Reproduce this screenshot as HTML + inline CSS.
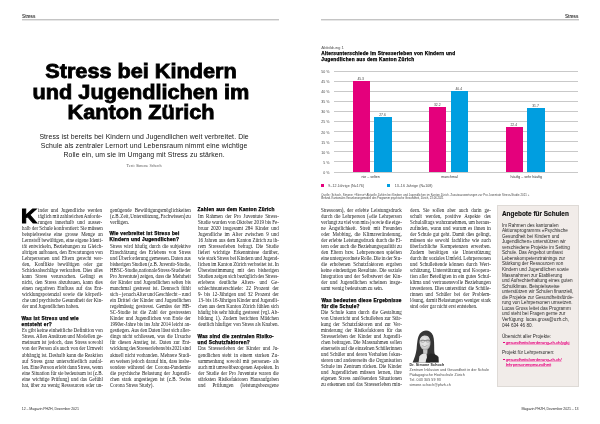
<!DOCTYPE html><html><head><meta charset="utf-8"><style>
*{margin:0;padding:0;box-sizing:border-box}
html,body{width:600px;height:424px;overflow:hidden;background:#fff}
body{position:relative}
.a{position:absolute;white-space:nowrap}
.b{font:5.35px/6.03px "Liberation Serif",serif;color:#151515;transform:scaleX(0.935);transform-origin:0 0}
.h{font:bold 4.8px/6.03px "Liberation Sans",sans-serif;color:#000;-webkit-text-stroke:0.25px #000}
.r{position:absolute}
</style></head><body><div style="position:absolute;left:0;top:0;width:600px;height:424px;will-change:transform">
<div class="a" style="left:22.20px;top:13.19px;font:normal normal 5.4px/6.480px 'Liberation Sans', sans-serif;color:#2a2a2a;transform:scaleX(0.87);transform-origin:0 0;-webkit-text-stroke:0.1px #2a2a2a;">Stress</div>
<div class="r" style="left:21.5px;top:19px;width:257px;height:1px;background:#c4c4c4;box-shadow:0 1px 0 #e6e6e6"></div>
<div class="a" style="right:21.30px;text-align:right;top:13.19px;font:normal normal 5.4px/6.480px 'Liberation Sans', sans-serif;color:#2a2a2a;transform:scaleX(0.87);transform-origin:100% 0;-webkit-text-stroke:0.1px #2a2a2a;">Stress</div>
<div class="r" style="left:321px;top:19px;width:257.5px;height:1px;background:#c4c4c4;box-shadow:0 1px 0 #e6e6e6"></div>
<div class="a" style="left:-58.9px;width:400px;text-align:center;top:60.40px;font:bold 19.9px/23px 'Liberation Sans',sans-serif;color:#000;transform:scaleX(1.09);-webkit-text-stroke:0.8px #000">Stress bei Kindern</div>
<div class="a" style="left:-58.9px;width:400px;text-align:center;top:81.00px;font:bold 19.9px/23px 'Liberation Sans',sans-serif;color:#000;transform:scaleX(1.09);-webkit-text-stroke:0.8px #000">und Jugendlichen im</div>
<div class="a" style="left:-58.9px;width:400px;text-align:center;top:101.10px;font:bold 19.9px/23px 'Liberation Sans',sans-serif;color:#000;transform:scaleX(1.09);-webkit-text-stroke:0.8px #000">Kanton Zürich</div>
<div class="a" style="left:-55.90px;width:400px;text-align:center;top:133.07px;font:normal normal 6.9px/8.280px 'Liberation Sans', sans-serif;color:#151515;letter-spacing:0.1px;">Stress ist bereits bei Kindern und Jugendlichen weit verbreitet. Die</div>
<div class="a" style="left:-55.90px;width:400px;text-align:center;top:142.07px;font:normal normal 6.9px/8.280px 'Liberation Sans', sans-serif;color:#151515;letter-spacing:0.1px;">Schule als zentraler Lernort und Lebensraum nimmt eine wichtige</div>
<div class="a" style="left:-55.90px;width:400px;text-align:center;top:150.97px;font:normal normal 6.9px/8.280px 'Liberation Sans', sans-serif;color:#151515;letter-spacing:0.1px;">Rolle ein, um sie im Umgang mit Stress zu stärken.</div>
<div class="a" style="left:-56.00px;width:400px;text-align:center;top:164.36px;font:normal normal 4.1px/4.920px 'Liberation Serif', serif;color:#555;">Text: Simone Schoch</div>
<div class="a" style="left:20.9px;top:205.1px;font:bold 21px/21px 'Liberation Sans',sans-serif;color:#000;-webkit-text-stroke:1px #000;transform:scaleX(1.06);transform-origin:0 0">K</div>
<div class="a b" style="left:38.20px;top:206.79px;word-spacing:1.430px">inder und Jugendliche werden</div>
<div class="a b" style="left:38.20px;top:212.81px;word-spacing:-0.346px">täglich mit zahlreichen Anforde-</div>
<div class="a b" style="left:38.20px;top:218.85px;word-spacing:2.159px">rungen innerhalb und ausser-</div>
<div class="a b" style="left:21.50px;top:224.88px;word-spacing:-0.142px">halb der Schule konfrontiert: Sie müssen</div>
<div class="a b" style="left:21.50px;top:230.91px;word-spacing:1.940px">beispielsweise eine grosse Menge an</div>
<div class="a b" style="left:21.50px;top:236.94px;word-spacing:-0.146px">Lernstoff bewältigen, eine eigene Identi-</div>
<div class="a b" style="left:21.50px;top:242.97px;word-spacing:0.495px">tät entwickeln, Beziehungen zu Gleich-</div>
<div class="a b" style="left:21.50px;top:249.00px;word-spacing:0.124px">altrigen aufbauen, den Erwartungen von</div>
<div class="a b" style="left:21.50px;top:255.03px;word-spacing:1.303px">Lehrpersonen und Eltern gerecht wer-</div>
<div class="a b" style="left:21.50px;top:261.06px;word-spacing:2.944px">den, Konflikte bewältigen oder gar</div>
<div class="a b" style="left:21.50px;top:267.09px;word-spacing:0.316px">Schicksalsschläge verkraften. Dies alles</div>
<div class="a b" style="left:21.50px;top:273.12px;word-spacing:2.569px">kann Stress verursachen. Gelingt es</div>
<div class="a b" style="left:21.50px;top:279.15px;word-spacing:0.808px">nicht, den Stress abzubauen, kann dies</div>
<div class="a b" style="left:21.50px;top:285.18px;word-spacing:1.346px">einen negativen Einfluss auf das Ent-</div>
<div class="a b" style="left:21.50px;top:291.21px;word-spacing:1.050px">wicklungspotenzial sowie die körperli-</div>
<div class="a b" style="left:21.50px;top:297.24px;word-spacing:-0.020px">che und psychische Gesundheit der Kin-</div>
<div class="a b" style="left:21.50px;top:303.27px">der und Jugendlichen haben.</div>
<div class="a h" style="left:21.50px;top:315.83px;letter-spacing:0.25px">Was ist Stress und wie</div>
<div class="a h" style="left:21.50px;top:321.86px;letter-spacing:0.25px">entsteht er?</div>
<div class="a b" style="left:21.50px;top:327.39px;word-spacing:-0.082px">Es gibt keine einheitliche Definition von</div>
<div class="a b" style="left:21.50px;top:333.42px;word-spacing:-0.173px">Stress. Allen Ansätzen und Modellen ge-</div>
<div class="a b" style="left:21.50px;top:339.45px;word-spacing:0.480px">meinsam ist jedoch, dass Stress sowohl</div>
<div class="a b" style="left:21.50px;top:345.48px;word-spacing:-0.059px">von der Person als auch von der Umwelt</div>
<div class="a b" style="left:21.50px;top:351.50px;word-spacing:0.008px">abhängig ist. Deshalb kann die Reaktion</div>
<div class="a b" style="left:21.50px;top:357.54px;word-spacing:1.050px">auf Stress ganz unterschiedlich ausfal-</div>
<div class="a b" style="left:21.50px;top:363.57px;word-spacing:-0.339px">len. Eine Person erlebt dann Stress, wenn</div>
<div class="a b" style="left:21.50px;top:369.60px;word-spacing:-0.042px">eine Situation für sie bedeutsam ist (z.B.</div>
<div class="a b" style="left:21.50px;top:375.62px;word-spacing:0.690px">eine wichtige Prüfung) und das Gefühl</div>
<div class="a b" style="left:21.50px;top:381.66px;word-spacing:0.280px">hat, über zu wenig Ressourcen oder un-</div>
<div class="a b" style="left:109.50px;top:206.79px;word-spacing:1.964px">genügende Bewältigungsmöglichkeiten</div>
<div class="a b" style="left:109.50px;top:212.81px;word-spacing:-0.657px">(z.B. Zeit, Unterstützung, Fachwissen) zu</div>
<div class="a b" style="left:109.50px;top:218.85px">verfügen.</div>
<div class="a h" style="left:109.50px;top:231.41px;letter-spacing:0.25px">Wie verbreitet ist Stress bei</div>
<div class="a h" style="left:109.50px;top:237.44px;letter-spacing:0.25px">Kindern und Jugendlichen?</div>
<div class="a b" style="left:109.50px;top:242.97px;word-spacing:0.571px">Stress wird häufig durch die subjektive</div>
<div class="a b" style="left:109.50px;top:249.00px;word-spacing:1.421px">Einschätzung des Erlebens von Stress</div>
<div class="a b" style="left:109.50px;top:255.03px;word-spacing:-0.173px">und Überforderung gemessen. Daten aus</div>
<div class="a b" style="left:109.50px;top:261.06px;word-spacing:-0.153px">bisherigen Studien (z.B. Juventir-Studie,</div>
<div class="a b" style="left:109.50px;top:267.09px;word-spacing:-0.981px">HBSC-Studie, nationale Stress-Studie der</div>
<div class="a b" style="left:109.50px;top:273.12px;word-spacing:-0.110px">Pro Juventute) zeigen, dass die Mehrheit</div>
<div class="a b" style="left:109.50px;top:279.15px;word-spacing:0.630px">der Kinder und Jugendlichen selten bis</div>
<div class="a b" style="left:109.50px;top:285.18px;word-spacing:1.159px">manchmal gestresst ist. Dennoch fühlt</div>
<div class="a b" style="left:109.50px;top:291.21px;word-spacing:-0.551px">sich – je nach Alter und Geschlecht – rund</div>
<div class="a b" style="left:109.50px;top:297.24px;word-spacing:0.277px">ein Drittel der Kinder und Jugendlichen</div>
<div class="a b" style="left:109.50px;top:303.27px;word-spacing:0.714px">regelmässig gestresst. Gemäss der HB-</div>
<div class="a b" style="left:109.50px;top:309.30px;word-spacing:1.224px">SC-Studie ist die Zahl der gestressten</div>
<div class="a b" style="left:109.50px;top:315.33px;word-spacing:0.571px">Kinder und Jugendlichen von Ende der</div>
<div class="a b" style="left:109.50px;top:321.36px;word-spacing:-0.024px">1990er-Jahre bis ins Jahr 2014 leicht an-</div>
<div class="a b" style="left:109.50px;top:327.39px;word-spacing:-0.199px">gestiegen. Aus den Daten lässt sich aller-</div>
<div class="a b" style="left:109.50px;top:333.42px;word-spacing:0.424px">dings nicht schliessen, was die Ursache</div>
<div class="a b" style="left:109.50px;top:339.45px;word-spacing:1.168px">für diesen Anstieg ist. Daten zur Ent-</div>
<div class="a b" style="left:109.50px;top:345.48px;word-spacing:-0.735px">wicklung des Stresserlebens bis 2021 sind</div>
<div class="a b" style="left:109.50px;top:351.50px;word-spacing:0.198px">aktuell nicht vorhanden. Mehrere Studi-</div>
<div class="a b" style="left:109.50px;top:357.54px;word-spacing:0.033px">en weisen jedoch darauf hin, dass insbe-</div>
<div class="a b" style="left:109.50px;top:363.57px;word-spacing:0.660px">sondere während der Corona-Pandemie</div>
<div class="a b" style="left:109.50px;top:369.60px;word-spacing:0.753px">die psychische Belastung der Jugendli-</div>
<div class="a b" style="left:109.50px;top:375.62px;word-spacing:1.224px">chen stark angestiegen ist (z.B. Swiss</div>
<div class="a b" style="left:109.50px;top:381.66px">Corona Stress Study).</div>
<div class="a h" style="left:197.60px;top:207.29px;letter-spacing:0.25px">Zahlen aus dem Kanton Zürich</div>
<div class="a b" style="left:197.60px;top:212.81px;word-spacing:1.343px">Im Rahmen der Pro Juventute Stress-</div>
<div class="a b" style="left:197.60px;top:218.85px;word-spacing:-0.144px">Studie wurden von Oktober 2019 bis Fe-</div>
<div class="a b" style="left:197.60px;top:224.88px;word-spacing:1.105px">bruar 2020 insgesamt 284 Kinder und</div>
<div class="a b" style="left:197.60px;top:230.91px;word-spacing:1.462px">Jugendliche im Alter zwischen 9 und</div>
<div class="a b" style="left:197.60px;top:236.94px;word-spacing:0.071px">16 Jahren aus dem Kanton Zürich zu ih-</div>
<div class="a b" style="left:197.60px;top:242.97px;word-spacing:1.608px">rem Stresserleben befragt. Die Studie</div>
<div class="a b" style="left:197.60px;top:249.00px;word-spacing:2.066px">liefert wichtige Erkenntnisse darüber,</div>
<div class="a b" style="left:197.60px;top:255.03px;word-spacing:-0.240px">wie stark Stress bei Kindern und Jugend-</div>
<div class="a b" style="left:197.60px;top:261.06px;word-spacing:-0.264px">lichen im Kanton Zürich verbreitet ist. In</div>
<div class="a b" style="left:197.60px;top:267.09px;word-spacing:2.238px">Übereinstimmung mit den bisherigen</div>
<div class="a b" style="left:197.60px;top:273.12px;word-spacing:-0.320px">Studien zeigen sich bezüglich des Stress-</div>
<div class="a b" style="left:197.60px;top:279.15px;word-spacing:3.276px">erlebens deutliche Alters- und Ge-</div>
<div class="a b" style="left:197.60px;top:285.18px;word-spacing:1.946px">schlechtsunterschiede: 22 Prozent der</div>
<div class="a b" style="left:197.60px;top:291.21px;word-spacing:0.997px">9- bis 12-Jährigen und 32 Prozent der</div>
<div class="a b" style="left:197.60px;top:297.24px;word-spacing:-0.320px">13- bis 16-Jährigen Kinder und Jugendli-</div>
<div class="a b" style="left:197.60px;top:303.27px;word-spacing:-0.042px">chen aus dem Kanton Zürich fühlen sich</div>
<div class="a b" style="left:197.60px;top:309.30px;word-spacing:-0.069px">häufig bis sehr häufig gestresst (vgl. Ab-</div>
<div class="a b" style="left:197.60px;top:315.33px;word-spacing:1.014px">bildung 1). Zudem berichten Mädchen</div>
<div class="a b" style="left:197.60px;top:321.36px;word-spacing:0.008px">deutlich häufiger von Stress als Knaben.</div>
<div class="a h" style="left:197.60px;top:333.92px;letter-spacing:0.25px">Was sind die zentralen Risiko-</div>
<div class="a h" style="left:197.60px;top:339.95px;letter-spacing:0.25px">und Schutzfaktoren?</div>
<div class="a b" style="left:197.60px;top:345.48px;word-spacing:1.343px">Das Stresserleben der Kinder und Ju-</div>
<div class="a b" style="left:197.60px;top:351.50px;word-spacing:1.168px">gendlichen steht in einem starken Zu-</div>
<div class="a b" style="left:197.60px;top:357.54px;word-spacing:0.823px">sammenhang sowohl mit personen- als</div>
<div class="a b" style="left:197.60px;top:363.57px;word-spacing:-0.173px">auch mit umweltbezogenen Aspekten. In</div>
<div class="a b" style="left:197.60px;top:369.60px;word-spacing:0.601px">der Studie der Pro Juventute waren die</div>
<div class="a b" style="left:197.60px;top:375.62px;word-spacing:1.209px">stärksten Risikofaktoren Hausaufgaben</div>
<div class="a b" style="left:197.60px;top:381.66px;word-spacing:6.255px">und Prüfungen (leistungsbezogene</div>
<div class="a b" style="left:321.40px;top:206.89px;word-spacing:0.905px">Stressoren), der erlebte Leistungsdruck</div>
<div class="a b" style="left:321.40px;top:212.91px;word-spacing:0.682px">durch die Lehrperson («die Lehrperson</div>
<div class="a b" style="left:321.40px;top:218.92px;word-spacing:-0.438px">verlangt zu viel von mir») sowie die eige-</div>
<div class="a b" style="left:321.40px;top:224.94px;word-spacing:1.753px">ne Ängstlichkeit. Streit mit Freunden</div>
<div class="a b" style="left:321.40px;top:230.95px;word-spacing:1.347px">oder Mobbing, die Klimaveränderung,</div>
<div class="a b" style="left:321.40px;top:236.97px;word-spacing:0.040px">der erlebte Leistungsdruck durch die El-</div>
<div class="a b" style="left:321.40px;top:242.98px;word-spacing:-0.138px">tern oder auch die Beziehungsqualität zu</div>
<div class="a b" style="left:321.40px;top:249.00px;word-spacing:1.100px">den Eltern bzw. Lehrpersonen spielten</div>
<div class="a b" style="left:321.40px;top:255.01px;word-spacing:-0.496px">eine untergeordnete Rolle. Die in der Stu-</div>
<div class="a b" style="left:321.40px;top:261.03px;word-spacing:1.488px">die erhobenen Schutzfaktoren ergaben</div>
<div class="a b" style="left:321.40px;top:267.04px;word-spacing:0.198px">keine eindeutigen Resultate. Die soziale</div>
<div class="a b" style="left:321.40px;top:273.06px;word-spacing:0.455px">Integration und der Selbstwert der Kin-</div>
<div class="a b" style="left:321.40px;top:279.07px;word-spacing:1.569px">der und Jugendlichen scheinen insge-</div>
<div class="a b" style="left:321.40px;top:285.09px">samt wenig bedeutsam zu sein.</div>
<div class="a h" style="left:321.40px;top:297.62px;letter-spacing:0.25px">Was bedeuten diese Ergebnisse</div>
<div class="a h" style="left:321.40px;top:303.63px;letter-spacing:0.25px">für die Schule?</div>
<div class="a b" style="left:321.40px;top:309.15px;word-spacing:1.046px">Die Schule kann durch die Gestaltung</div>
<div class="a b" style="left:321.40px;top:315.16px;word-spacing:0.177px">von Unterricht und Schulleben zur Stär-</div>
<div class="a b" style="left:321.40px;top:321.18px;word-spacing:1.208px">kung der Schutzfaktoren und zur Ver-</div>
<div class="a b" style="left:321.40px;top:327.19px;word-spacing:1.495px">minderung der Risikofaktoren für das</div>
<div class="a b" style="left:321.40px;top:333.21px;word-spacing:0.753px">Stresserleben der Kinder und Jugendli-</div>
<div class="a b" style="left:321.40px;top:339.22px;word-spacing:0.272px">chen beitragen. Die Massnahmen sollen</div>
<div class="a b" style="left:321.40px;top:345.24px;word-spacing:-0.282px">einerseits auf die einzelnen Schülerinnen</div>
<div class="a b" style="left:321.40px;top:351.25px;word-spacing:0.296px">und Schüler und deren Verhalten fokus-</div>
<div class="a b" style="left:321.40px;top:357.27px;word-spacing:0.182px">sieren und andererseits die Organisation</div>
<div class="a b" style="left:321.40px;top:363.28px;word-spacing:0.424px">Schule ins Zentrum rücken. Die Kinder</div>
<div class="a b" style="left:321.40px;top:369.30px;word-spacing:1.456px">und Jugendlichen müssen lernen, ihre</div>
<div class="a b" style="left:321.40px;top:375.31px;word-spacing:0.853px">eigenen Stress auslösenden Situationen</div>
<div class="a b" style="left:321.40px;top:381.33px;word-spacing:0.277px">zu erkennen und das Stresserleben min-</div>
<div class="a b" style="left:409.60px;top:206.89px;word-spacing:1.814px">dern. Sie sollen aber auch darin ge-</div>
<div class="a b" style="left:409.60px;top:212.91px;word-spacing:2.495px">schult werden, positive Aspekte des</div>
<div class="a b" style="left:409.60px;top:218.92px;word-spacing:-0.085px">Schulalltags wahrzunehmen, um heraus-</div>
<div class="a b" style="left:409.60px;top:224.94px;word-spacing:0.575px">zufinden, wann und warum es ihnen in</div>
<div class="a b" style="left:409.60px;top:230.95px;word-spacing:0.254px">der Schule gut geht. Damit dies gelingt,</div>
<div class="a b" style="left:409.60px;top:236.97px;word-spacing:0.990px">müssen sie sowohl fachliche wie auch</div>
<div class="a b" style="left:409.60px;top:242.98px;word-spacing:1.888px">überfachliche Kompetenzen erwerben.</div>
<div class="a b" style="left:409.60px;top:249.00px;word-spacing:3.327px">Zudem benötigen sie Unterstützung</div>
<div class="a b" style="left:409.60px;top:255.01px;word-spacing:-0.247px">durch ihr soziales Umfeld. Lehrpersonen</div>
<div class="a b" style="left:409.60px;top:261.03px;word-spacing:1.034px">und Schulleitende können durch Wert-</div>
<div class="a b" style="left:409.60px;top:267.04px;word-spacing:0.410px">schätzung, Unterstützung und Koopera-</div>
<div class="a b" style="left:409.60px;top:273.06px;word-spacing:0.205px">tion aller Beteiligten in ein gutes Schul-</div>
<div class="a b" style="left:409.60px;top:279.07px;word-spacing:0.462px">klima und vertrauensvolle Beziehungen</div>
<div class="a b" style="left:409.60px;top:285.09px;word-spacing:0.272px">investieren. Dies unterstützt die Schüle-</div>
<div class="a b" style="left:409.60px;top:291.10px;word-spacing:1.699px">rinnen und Schüler bei der Problem-</div>
<div class="a b" style="left:409.60px;top:297.12px;word-spacing:-0.177px">lösung, damit Belastungen weniger stark</div>
<div class="a b" style="left:409.60px;top:303.13px">sind oder gar nicht erst entstehen.</div>
<div class="a" style="left:21.80px;top:407.39px;font:normal normal 3.6px/4.320px 'Liberation Sans', sans-serif;color:#333;letter-spacing:-0.09px;">12 – Magazin PHZH, Dezember 2021</div>
<div class="a" style="right:21.50px;text-align:right;top:407.39px;font:normal normal 3.6px/4.320px 'Liberation Sans', sans-serif;color:#333;letter-spacing:-0.09px;">Magazin PHZH, Dezember 2021 – 13</div>
<div class="a" style="left:321.30px;top:44.93px;font:normal normal 4.3px/5.160px 'Liberation Sans', sans-serif;color:#555;">Abbildung 1</div>
<div class="a" style="left:321.30px;top:51.06px;font:normal bold 4.8px/5.760px 'Liberation Sans', sans-serif;color:#000;letter-spacing:0.22px;-webkit-text-stroke:0.25px #000;">Altersunterschiede im Stresserleben von Kindern und</div>
<div class="a" style="left:321.30px;top:57.16px;font:normal bold 4.8px/5.760px 'Liberation Sans', sans-serif;color:#000;letter-spacing:0.22px;-webkit-text-stroke:0.25px #000;">Jugendlichen aus dem Kanton Zürich</div>
<div class="r" style="left:334px;top:171.55px;width:244.3px;height:1px;background:#c9c9c9"></div>
<div class="a" style="right:270.50px;text-align:right;top:170.74px;font:normal normal 3.6px/4.320px 'Liberation Sans', sans-serif;color:#444;">0 %</div>
<div class="r" style="left:334px;top:161.49px;width:244.3px;height:1px;background:#c9c9c9"></div>
<div class="a" style="right:270.50px;text-align:right;top:160.68px;font:normal normal 3.6px/4.320px 'Liberation Sans', sans-serif;color:#444;">5 %</div>
<div class="r" style="left:334px;top:151.43px;width:244.3px;height:1px;background:#c9c9c9"></div>
<div class="a" style="right:270.50px;text-align:right;top:150.62px;font:normal normal 3.6px/4.320px 'Liberation Sans', sans-serif;color:#444;">10 %</div>
<div class="r" style="left:334px;top:141.37px;width:244.3px;height:1px;background:#c9c9c9"></div>
<div class="a" style="right:270.50px;text-align:right;top:140.56px;font:normal normal 3.6px/4.320px 'Liberation Sans', sans-serif;color:#444;">15 %</div>
<div class="r" style="left:334px;top:131.31px;width:244.3px;height:1px;background:#c9c9c9"></div>
<div class="a" style="right:270.50px;text-align:right;top:130.50px;font:normal normal 3.6px/4.320px 'Liberation Sans', sans-serif;color:#444;">20 %</div>
<div class="r" style="left:334px;top:121.25px;width:244.3px;height:1px;background:#c9c9c9"></div>
<div class="a" style="right:270.50px;text-align:right;top:120.44px;font:normal normal 3.6px/4.320px 'Liberation Sans', sans-serif;color:#444;">25 %</div>
<div class="r" style="left:334px;top:111.19px;width:244.3px;height:1px;background:#c9c9c9"></div>
<div class="a" style="right:270.50px;text-align:right;top:110.38px;font:normal normal 3.6px/4.320px 'Liberation Sans', sans-serif;color:#444;">30 %</div>
<div class="r" style="left:334px;top:101.13px;width:244.3px;height:1px;background:#c9c9c9"></div>
<div class="a" style="right:270.50px;text-align:right;top:100.32px;font:normal normal 3.6px/4.320px 'Liberation Sans', sans-serif;color:#444;">35 %</div>
<div class="r" style="left:334px;top:91.07px;width:244.3px;height:1px;background:#c9c9c9"></div>
<div class="a" style="right:270.50px;text-align:right;top:90.26px;font:normal normal 3.6px/4.320px 'Liberation Sans', sans-serif;color:#444;">40 %</div>
<div class="r" style="left:334px;top:81.01px;width:244.3px;height:1px;background:#c9c9c9"></div>
<div class="a" style="right:270.50px;text-align:right;top:80.20px;font:normal normal 3.6px/4.320px 'Liberation Sans', sans-serif;color:#444;">45 %</div>
<div class="r" style="left:334px;top:70.95px;width:244.3px;height:1px;background:#c9c9c9"></div>
<div class="a" style="right:270.50px;text-align:right;top:70.14px;font:normal normal 3.6px/4.320px 'Liberation Sans', sans-serif;color:#444;">50 %</div>
<div class="r" style="left:352.6px;top:80.91px;width:17.3px;height:91.14px;background:#e4007c"></div>
<div class="a" style="left:160.70px;width:400px;text-align:center;top:76.99px;font:normal normal 3.4px/4.080px 'Liberation Sans', sans-serif;color:#444;">45.3</div>
<div class="r" style="left:374.4px;top:116.52px;width:17.3px;height:55.53px;background:#009ee0"></div>
<div class="a" style="left:182.50px;width:400px;text-align:center;top:112.60px;font:normal normal 3.4px/4.080px 'Liberation Sans', sans-serif;color:#444;">27.6</div>
<div class="r" style="left:429.2px;top:107.26px;width:17.3px;height:64.79px;background:#e4007c"></div>
<div class="a" style="left:237.30px;width:400px;text-align:center;top:103.35px;font:normal normal 3.4px/4.080px 'Liberation Sans', sans-serif;color:#444;">32.2</div>
<div class="r" style="left:450.7px;top:90.77px;width:17.3px;height:81.28px;background:#009ee0"></div>
<div class="a" style="left:258.80px;width:400px;text-align:center;top:86.85px;font:normal normal 3.4px/4.080px 'Liberation Sans', sans-serif;color:#444;">40.4</div>
<div class="r" style="left:505.7px;top:126.98px;width:17.3px;height:45.07px;background:#e4007c"></div>
<div class="a" style="left:313.80px;width:400px;text-align:center;top:123.06px;font:normal normal 3.4px/4.080px 'Liberation Sans', sans-serif;color:#444;">22.4</div>
<div class="r" style="left:527.4px;top:108.27px;width:17.3px;height:63.78px;background:#009ee0"></div>
<div class="a" style="left:335.50px;width:400px;text-align:center;top:104.35px;font:normal normal 3.4px/4.080px 'Liberation Sans', sans-serif;color:#444;">31.7</div>
<div class="a" style="left:170.70px;width:400px;text-align:center;top:174.99px;font:normal normal 3.6px/4.320px 'Liberation Sans', sans-serif;color:#333;">nie – selten</div>
<div class="a" style="left:249.60px;width:400px;text-align:center;top:174.99px;font:normal normal 3.6px/4.320px 'Liberation Sans', sans-serif;color:#333;">manchmal</div>
<div class="a" style="left:326.20px;width:400px;text-align:center;top:174.99px;font:normal normal 3.6px/4.320px 'Liberation Sans', sans-serif;color:#333;">häufig – sehr häufig</div>
<div class="r" style="left:321.1px;top:184.3px;width:3.2px;height:3.2px;background:#e4007c"></div>
<div class="r" style="left:386.9px;top:184.3px;width:3.2px;height:3.2px;background:#009ee0"></div>
<div class="a" style="left:328.30px;top:183.99px;font:normal normal 3.6px/4.320px 'Liberation Sans', sans-serif;color:#444;letter-spacing:0.05px;">9–12 Jährige (N=176)</div>
<div class="a" style="left:394.70px;top:183.99px;font:normal normal 3.6px/4.320px 'Liberation Sans', sans-serif;color:#444;letter-spacing:0.05px;">13–16 Jährige (N=108)</div>
<div class="a" style="left:321.30px;top:193.80px;font:normal normal 2.75px/3.300px 'Liberation Sans', sans-serif;color:#444;letter-spacing:0.08px;">Quelle: Schoch, Simone: «Stress» Aktuelle Zahlen bei Kindern und Jugendlichen im Kanton Zürich. Zusatzauswertungen zur Pro Juventute Stress-Studie 2021 +</div>
<div class="a" style="left:321.30px;top:197.20px;font:normal normal 2.75px/3.300px 'Liberation Sans', sans-serif;color:#444;">Befund. Kantonales Verankerungsmodell des Programm psychische Gesundheit, Zürich, 23.06.2021</div>
<div class="r" style="left:497px;top:205px;width:81.8px;height:181.8px;background:#f1ece9;border:0.6px solid #dedad6"></div>
<div class="a" style="left:501.90px;top:209.54px;font:normal bold 6.4px/7.680px 'Liberation Sans', sans-serif;color:#111;letter-spacing:0.03px;-webkit-text-stroke:0.15px #111;">Angebote für Schulen</div>
<div class="a" style="left:501.90px;top:222.50px;font:normal normal 4.65px/5.580px 'Liberation Sans', sans-serif;color:#2a2a2a;">Im Rahmen des kantonalen</div>
<div class="a" style="left:501.90px;top:228.06px;font:normal normal 4.65px/5.580px 'Liberation Sans', sans-serif;color:#2a2a2a;">Aktionsprogramms «Psychische</div>
<div class="a" style="left:501.90px;top:233.62px;font:normal normal 4.65px/5.580px 'Liberation Sans', sans-serif;color:#2a2a2a;">Gesundheit bei Kindern und</div>
<div class="a" style="left:501.90px;top:239.18px;font:normal normal 4.65px/5.580px 'Liberation Sans', sans-serif;color:#2a2a2a;">Jugendlichen» unterstützen wir</div>
<div class="a" style="left:501.90px;top:244.74px;font:normal normal 4.65px/5.580px 'Liberation Sans', sans-serif;color:#2a2a2a;">verschiedene Projekte im Setting</div>
<div class="a" style="left:501.90px;top:250.30px;font:normal normal 4.65px/5.580px 'Liberation Sans', sans-serif;color:#2a2a2a;">Schule. Das Angebot umfasst</div>
<div class="a" style="left:501.90px;top:255.86px;font:normal normal 4.65px/5.580px 'Liberation Sans', sans-serif;color:#2a2a2a;">Lebenskompetenztrainings zur</div>
<div class="a" style="left:501.90px;top:261.42px;font:normal normal 4.65px/5.580px 'Liberation Sans', sans-serif;color:#2a2a2a;">Stärkung der Ressourcen von</div>
<div class="a" style="left:501.90px;top:266.98px;font:normal normal 4.65px/5.580px 'Liberation Sans', sans-serif;color:#2a2a2a;">Kindern und Jugendlichen sowie</div>
<div class="a" style="left:501.90px;top:272.54px;font:normal normal 4.65px/5.580px 'Liberation Sans', sans-serif;color:#2a2a2a;">Massnahmen zur Etablierung</div>
<div class="a" style="left:501.90px;top:278.10px;font:normal normal 4.65px/5.580px 'Liberation Sans', sans-serif;color:#2a2a2a;">und Aufrechterhaltung eines guten</div>
<div class="a" style="left:501.90px;top:283.66px;font:normal normal 4.65px/5.580px 'Liberation Sans', sans-serif;color:#2a2a2a;">Schulklimas. Beispielsweise</div>
<div class="a" style="left:501.90px;top:289.22px;font:normal normal 4.65px/5.580px 'Liberation Sans', sans-serif;color:#2a2a2a;">unterstützen wir Schulen finanziell,</div>
<div class="a" style="left:501.90px;top:294.78px;font:normal normal 4.65px/5.580px 'Liberation Sans', sans-serif;color:#2a2a2a;">die Projekte zur Gesundheitsförde-</div>
<div class="a" style="left:501.90px;top:300.34px;font:normal normal 4.65px/5.580px 'Liberation Sans', sans-serif;color:#2a2a2a;">rung von Lehrpersonen umsetzen.</div>
<div class="a" style="left:501.90px;top:305.90px;font:normal normal 4.65px/5.580px 'Liberation Sans', sans-serif;color:#2a2a2a;">Lucas Gross leitet das Programm</div>
<div class="a" style="left:501.90px;top:311.46px;font:normal normal 4.65px/5.580px 'Liberation Sans', sans-serif;color:#2a2a2a;">und steht bei Fragen gerne zur</div>
<div class="a" style="left:501.90px;top:317.02px;font:normal normal 4.65px/5.580px 'Liberation Sans', sans-serif;color:#2a2a2a;">Verfügung: lucas.gross@uzh.ch,</div>
<div class="a" style="left:501.90px;top:322.58px;font:normal normal 4.65px/5.580px 'Liberation Sans', sans-serif;color:#2a2a2a;">044 634 46 80.</div>
<div class="a" style="left:501.90px;top:334.10px;font:normal normal 4.65px/5.580px 'Liberation Sans', sans-serif;color:#2a2a2a;">Übersicht aller Projekte:</div>
<div class="r" style="left:502.6px;top:342.2px;width:2.2px;height:0.5px;background:#e6007e"></div>
<div class="r" style="left:502.6px;top:359.0px;width:2.2px;height:0.5px;background:#e6007e"></div>
<div class="a" style="left:505.70px;top:340.44px;font:normal normal 4.4px/5.280px 'Liberation Sans', sans-serif;color:#e6007e;letter-spacing:-0.08px;text-decoration:underline;text-decoration-color:#f3a6cc;text-decoration-thickness:0.7px;text-underline-offset:0.1px;-webkit-text-stroke:0.1px #e6007e;">gesundheitsfoerderung-zh.ch/pgkj</div>
<div class="a" style="left:501.90px;top:350.00px;font:normal normal 4.65px/5.580px 'Liberation Sans', sans-serif;color:#2a2a2a;">Projekt für Lehrpersonen:</div>
<div class="a" style="left:505.70px;top:357.24px;font:normal normal 4.4px/5.280px 'Liberation Sans', sans-serif;color:#e6007e;letter-spacing:-0.08px;text-decoration:underline;text-decoration-color:#f3a6cc;text-decoration-thickness:0.7px;text-underline-offset:0.1px;-webkit-text-stroke:0.1px #e6007e;">gesundheitsfoerderung-zh.ch/</div>
<div class="a" style="left:505.70px;top:362.14px;font:normal normal 4.4px/5.280px 'Liberation Sans', sans-serif;color:#e6007e;letter-spacing:-0.08px;text-decoration:underline;text-decoration-color:#f3a6cc;text-decoration-thickness:0.7px;text-underline-offset:0.1px;-webkit-text-stroke:0.1px #e6007e;">lehrpersonengesundheit</div>
<svg class="r" style="left:408px;top:326px" width="36" height="40" viewBox="0 0 36 40">
<defs><filter id="bl" x="-10%" y="-10%" width="120%" height="120%"><feGaussianBlur stdDeviation="0.4"/></filter>
<radialGradient id="fg" cx="0.45" cy="0.42" r="0.62"><stop offset="0" stop-color="#ececec"/><stop offset="0.65" stop-color="#d6d6d6"/><stop offset="1" stop-color="#a0a0a0"/></radialGradient></defs>
<g filter="url(#bl)">
<path d="M4.6 36.6 C6.5 32 8 28 8.6 23 C9.2 17 9.4 11 12 7.5 C13.8 5.3 16 4.4 18 4.4 C21 4.4 23.6 6 25 9.5 C26.3 13 26.2 19 26.2 24 C26.3 26.5 26.6 28 27.5 29.5 L22 36.6 Z" fill="#353535"/>
<path d="M10.6 36.6 L11.4 30.5 C13 28 15.5 27 18.5 27.2 L19.5 36.6 Z" fill="#e6e6e6"/>
<path d="M17.6 36.6 C18 32.5 19.5 29.5 22.5 27.6 C25.5 27.5 28.5 28.8 30.5 31 L30.8 36.6 Z" fill="#262626"/>
<path d="M15 23.5 L19.5 23.5 L19.3 27.8 L15.3 27.8 Z" fill="#c8c8c8"/>
<ellipse cx="17" cy="16.4" rx="5.5" ry="7.9" transform="rotate(-4 17 16.4)" fill="url(#fg)"/>
<path d="M11.2 14 C11.3 10 13.5 7.4 17 7.2 C20.2 7.1 22.5 9 22.9 12.5 C21.2 10.3 18.5 9.3 15.5 9.7 C13.5 10 12 11.5 11.5 14.5 Z" fill="#3a3a3a"/>
<path d="M12.3 14.6 L22.2 14.4" stroke="#5a5a5a" stroke-width="0.55"/>
<ellipse cx="14.8" cy="15.1" rx="2.1" ry="1.2" fill="none" stroke="#707070" stroke-width="0.45"/>
<ellipse cx="19.8" cy="14.9" rx="2.1" ry="1.2" fill="none" stroke="#707070" stroke-width="0.45"/>
<path d="M14.2 19.6 Q16.8 21.8 19.4 19.4" stroke="#808080" stroke-width="0.6" fill="#f4f4f4"/>
</g></svg>
<div class="a" style="left:409.50px;top:363.49px;font:normal bold 3.6px/4.320px 'Liberation Sans', sans-serif;color:#222;letter-spacing:0.12px;">Dr. Simone Schoch</div>
<div class="a" style="left:409.50px;top:368.34px;font:normal normal 3.55px/4.260px 'Liberation Sans', sans-serif;color:#444;letter-spacing:0.08px;">Zentrum Inklusion und Gesundheit in der Schule</div>
<div class="a" style="left:409.50px;top:373.04px;font:normal normal 3.55px/4.260px 'Liberation Sans', sans-serif;color:#444;letter-spacing:0.08px;">Pädagogische Hochschule Zürich</div>
<div class="a" style="left:409.50px;top:377.84px;font:normal normal 3.55px/4.260px 'Liberation Sans', sans-serif;color:#444;letter-spacing:0.12px;">Tel. 043 305 59 93</div>
<div class="a" style="left:409.50px;top:382.54px;font:normal normal 3.55px/4.260px 'Liberation Sans', sans-serif;color:#444;letter-spacing:0.08px;">simone.schoch@phzh.ch</div>
</div></body></html>
